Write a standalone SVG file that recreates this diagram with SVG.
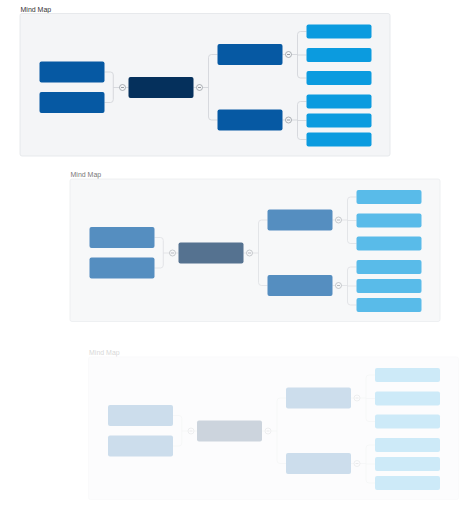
<svg xmlns="http://www.w3.org/2000/svg" width="474" height="514" viewBox="0 0 474 514">
<style>
.title{font-family:"Liberation Sans",Arial,sans-serif;font-size:7px;fill:#333}
.panel{fill:#f4f5f7;stroke:#e2e4e8;stroke-width:0.8}
.root{fill:#05305c}
.mid{fill:#0659a3}
.leaf{fill:#0b9bdf}
.conn{fill:none;stroke:#cfd2d7;stroke-width:0.8}
</style>
<defs>
<g id="t"><circle r="3" fill="#f4f5f7" stroke="#8e939a" stroke-width="0.7"/><line x1="-1.5" y1="0" x2="1.5" y2="0" stroke="#6f747b" stroke-width="0.7"/></g>
</defs>
<rect width="474" height="514" fill="#ffffff"/>

<g id="panel1">
<text class="title" x="20.5" y="11.5">Mind Map</text>
<rect class="panel" x="20" y="13.5" width="370" height="142.5" rx="2"/>
<g id="connectors1" class="conn">
<path d="M104.5,72 H110.5 Q113.3,72 113.3,75 V99.5 Q113.3,102.5 110.5,102.5 H104.5 M113.3,87.5 H119.5 M125.5,87.5 H128.5"/>
<path d="M193.5,87.5 H196.5 M202.5,87.5 H208.5 M217.5,54.5 H211.5 Q208.5,54.5 208.5,57.5 V117 Q208.5,120 211.5,120 H217.5"/>
<path d="M282.5,54.5 H285.5 M291.5,54.5 H297.5 M306.5,31.5 H300.5 Q297.5,31.5 297.5,34.5 V75 Q297.5,78 300.5,78 H306.5 M297.5,55 H306.5"/>
<path d="M282.5,120 H285.5 M291.5,120 H297.5 M306.5,101.5 H300.5 Q297.5,101.5 297.5,104.5 V136.5 Q297.5,139.5 300.5,139.5 H306.5 M297.5,120.5 H306.5"/>
</g>
<g id="toggles1"><use href="#t" x="122.5" y="87.5"/><use href="#t" x="199.5" y="87.5"/><use href="#t" x="288.5" y="54.5"/><use href="#t" x="288.5" y="120"/></g>
<g id="p1-left1"><rect class="mid" x="39.5" y="61.5" width="65" height="21" rx="2"/></g>
<g id="p1-left2"><rect class="mid" x="39.5" y="92" width="65" height="21" rx="2"/></g>
<g id="p1-root"><rect class="root" x="128.5" y="77" width="65" height="21" rx="2"/></g>
<g id="p1-mid1"><rect class="mid" x="217.5" y="44" width="65" height="21" rx="2"/></g>
<g id="p1-mid2"><rect class="mid" x="217.5" y="109.5" width="65" height="21" rx="2"/></g>
<g id="p1-leaf1"><rect class="leaf" x="306.5" y="24.5" width="65" height="14" rx="2"/></g>
<g id="p1-leaf2"><rect class="leaf" x="306.5" y="48" width="65" height="14" rx="2"/></g>
<g id="p1-leaf3"><rect class="leaf" x="306.5" y="71" width="65" height="14" rx="2"/></g>
<g id="p1-leaf4"><rect class="leaf" x="306.5" y="94.5" width="65" height="14" rx="2"/></g>
<g id="p1-leaf5"><rect class="leaf" x="306.5" y="113.5" width="65" height="14" rx="2"/></g>
<g id="p1-leaf6"><rect class="leaf" x="306.5" y="132.5" width="65" height="14" rx="2"/></g>
</g>

<g id="panel2" transform="translate(50,165.5)" opacity="0.68">
<text class="title" x="20.5" y="11.5">Mind Map</text>
<rect class="panel" x="20" y="13.5" width="370" height="142.5" rx="2"/>
<g id="connectors2" class="conn">
<path d="M104.5,72 H110.5 Q113.3,72 113.3,75 V99.5 Q113.3,102.5 110.5,102.5 H104.5 M113.3,87.5 H119.5 M125.5,87.5 H128.5"/>
<path d="M193.5,87.5 H196.5 M202.5,87.5 H208.5 M217.5,54.5 H211.5 Q208.5,54.5 208.5,57.5 V117 Q208.5,120 211.5,120 H217.5"/>
<path d="M282.5,54.5 H285.5 M291.5,54.5 H297.5 M306.5,31.5 H300.5 Q297.5,31.5 297.5,34.5 V75 Q297.5,78 300.5,78 H306.5 M297.5,55 H306.5"/>
<path d="M282.5,120 H285.5 M291.5,120 H297.5 M306.5,101.5 H300.5 Q297.5,101.5 297.5,104.5 V136.5 Q297.5,139.5 300.5,139.5 H306.5 M297.5,120.5 H306.5"/>
</g>
<g id="toggles2"><use href="#t" x="122.5" y="87.5"/><use href="#t" x="199.5" y="87.5"/><use href="#t" x="288.5" y="54.5"/><use href="#t" x="288.5" y="120"/></g>
<g id="p2-left1"><rect class="mid" x="39.5" y="61.5" width="65" height="21" rx="2"/></g>
<g id="p2-left2"><rect class="mid" x="39.5" y="92" width="65" height="21" rx="2"/></g>
<g id="p2-root"><rect class="root" x="128.5" y="77" width="65" height="21" rx="2"/></g>
<g id="p2-mid1"><rect class="mid" x="217.5" y="44" width="65" height="21" rx="2"/></g>
<g id="p2-mid2"><rect class="mid" x="217.5" y="109.5" width="65" height="21" rx="2"/></g>
<g id="p2-leaf1"><rect class="leaf" x="306.5" y="24.5" width="65" height="14" rx="2"/></g>
<g id="p2-leaf2"><rect class="leaf" x="306.5" y="48" width="65" height="14" rx="2"/></g>
<g id="p2-leaf3"><rect class="leaf" x="306.5" y="71" width="65" height="14" rx="2"/></g>
<g id="p2-leaf4"><rect class="leaf" x="306.5" y="94.5" width="65" height="14" rx="2"/></g>
<g id="p2-leaf5"><rect class="leaf" x="306.5" y="113.5" width="65" height="14" rx="2"/></g>
<g id="p2-leaf6"><rect class="leaf" x="306.5" y="132.5" width="65" height="14" rx="2"/></g>
</g>

<g id="panel3" transform="translate(68.5,343.5)" opacity="0.2">
<text class="title" x="20.5" y="11.5">Mind Map</text>
<rect class="panel" x="20" y="13.5" width="370" height="142.5" rx="2"/>
<g id="connectors3" class="conn">
<path d="M104.5,72 H110.5 Q113.3,72 113.3,75 V99.5 Q113.3,102.5 110.5,102.5 H104.5 M113.3,87.5 H119.5 M125.5,87.5 H128.5"/>
<path d="M193.5,87.5 H196.5 M202.5,87.5 H208.5 M217.5,54.5 H211.5 Q208.5,54.5 208.5,57.5 V117 Q208.5,120 211.5,120 H217.5"/>
<path d="M282.5,54.5 H285.5 M291.5,54.5 H297.5 M306.5,31.5 H300.5 Q297.5,31.5 297.5,34.5 V75 Q297.5,78 300.5,78 H306.5 M297.5,55 H306.5"/>
<path d="M282.5,120 H285.5 M291.5,120 H297.5 M306.5,101.5 H300.5 Q297.5,101.5 297.5,104.5 V136.5 Q297.5,139.5 300.5,139.5 H306.5 M297.5,120.5 H306.5"/>
</g>
<g id="toggles3"><use href="#t" x="122.5" y="87.5"/><use href="#t" x="199.5" y="87.5"/><use href="#t" x="288.5" y="54.5"/><use href="#t" x="288.5" y="120"/></g>
<g id="p3-left1"><rect class="mid" x="39.5" y="61.5" width="65" height="21" rx="2"/></g>
<g id="p3-left2"><rect class="mid" x="39.5" y="92" width="65" height="21" rx="2"/></g>
<g id="p3-root"><rect class="root" x="128.5" y="77" width="65" height="21" rx="2"/></g>
<g id="p3-mid1"><rect class="mid" x="217.5" y="44" width="65" height="21" rx="2"/></g>
<g id="p3-mid2"><rect class="mid" x="217.5" y="109.5" width="65" height="21" rx="2"/></g>
<g id="p3-leaf1"><rect class="leaf" x="306.5" y="24.5" width="65" height="14" rx="2"/></g>
<g id="p3-leaf2"><rect class="leaf" x="306.5" y="48" width="65" height="14" rx="2"/></g>
<g id="p3-leaf3"><rect class="leaf" x="306.5" y="71" width="65" height="14" rx="2"/></g>
<g id="p3-leaf4"><rect class="leaf" x="306.5" y="94.5" width="65" height="14" rx="2"/></g>
<g id="p3-leaf5"><rect class="leaf" x="306.5" y="113.5" width="65" height="14" rx="2"/></g>
<g id="p3-leaf6"><rect class="leaf" x="306.5" y="132.5" width="65" height="14" rx="2"/></g>
</g>
</svg>
